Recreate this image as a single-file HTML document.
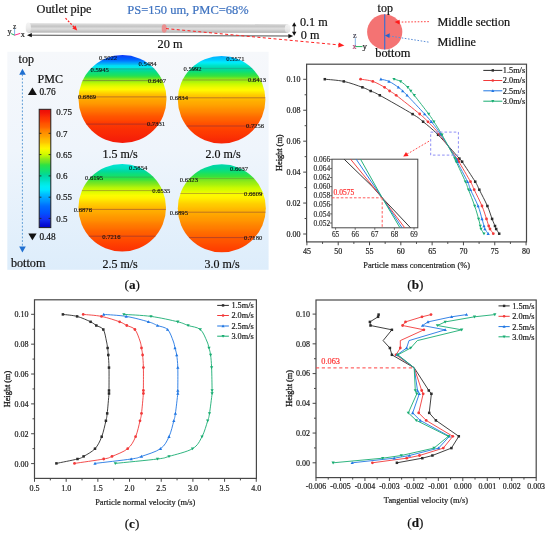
<!DOCTYPE html><html><head><meta charset="utf-8"><title>Figure</title>
<style>html,body{margin:0;padding:0;background:#fff;}svg{display:block;}text{font-family:'Liberation Serif', 'Times New Roman', serif;}</style>
</head><body>
<svg width="550" height="533" viewBox="0 0 550 533">
<defs>
<linearGradient id="panelbg" x1="0" y1="0" x2="0" y2="1"><stop offset="0" stop-color="#f6f8fb"/><stop offset="0.45" stop-color="#eff5fc"/><stop offset="1" stop-color="#ddedfb"/></linearGradient>
<linearGradient id="pipe" x1="0" y1="0" x2="0" y2="1"><stop offset="0" stop-color="#e8e8e8"/><stop offset="0.12" stop-color="#dadada"/><stop offset="0.34" stop-color="#c4c4c4"/><stop offset="0.58" stop-color="#dedede"/><stop offset="0.8" stop-color="#c8c8c8"/><stop offset="0.93" stop-color="#b6b6b6"/><stop offset="1" stop-color="#cecece"/></linearGradient>
<linearGradient id="pipecap" x1="0" y1="0" x2="0" y2="1"><stop offset="0" stop-color="#f4f4f4"/><stop offset="0.5" stop-color="#ececec"/><stop offset="1" stop-color="#dadada"/></linearGradient>
<linearGradient id="cbar" x1="0" y1="0" x2="0" y2="1"><stop offset="0" stop-color="#eb0b06"/><stop offset="0.03" stop-color="#f11707"/><stop offset="0.05" stop-color="#f72307"/><stop offset="0.07" stop-color="#fb3203"/><stop offset="0.1" stop-color="#ff4100"/><stop offset="0.12" stop-color="#ff5300"/><stop offset="0.15" stop-color="#ff6400"/><stop offset="0.17" stop-color="#ff7a00"/><stop offset="0.2" stop-color="#ff8f00"/><stop offset="0.23" stop-color="#ffa200"/><stop offset="0.25" stop-color="#ffb400"/><stop offset="0.28" stop-color="#ffc600"/><stop offset="0.3" stop-color="#ffdd00"/><stop offset="0.33" stop-color="#fff500"/><stop offset="0.35" stop-color="#ecfb00"/><stop offset="0.38" stop-color="#d1fa00"/><stop offset="0.4" stop-color="#b0f30a"/><stop offset="0.42" stop-color="#8ce919"/><stop offset="0.45" stop-color="#5fe42c"/><stop offset="0.47" stop-color="#2ee242"/><stop offset="0.5" stop-color="#1ae161"/><stop offset="0.53" stop-color="#0cde7c"/><stop offset="0.55" stop-color="#04d994"/><stop offset="0.57" stop-color="#00daab"/><stop offset="0.6" stop-color="#00e0c2"/><stop offset="0.62" stop-color="#00e6da"/><stop offset="0.65" stop-color="#00edf2"/><stop offset="0.68" stop-color="#00e7ff"/><stop offset="0.7" stop-color="#00d2ff"/><stop offset="0.72" stop-color="#00bcff"/><stop offset="0.75" stop-color="#00a5ff"/><stop offset="0.78" stop-color="#0090ff"/><stop offset="0.8" stop-color="#007cff"/><stop offset="0.82" stop-color="#006bff"/><stop offset="0.85" stop-color="#005eff"/><stop offset="0.88" stop-color="#0250fe"/><stop offset="0.9" stop-color="#0c40f9"/><stop offset="0.93" stop-color="#1330f3"/><stop offset="0.95" stop-color="#0d21e5"/><stop offset="0.97" stop-color="#0711d7"/><stop offset="1" stop-color="#0001c9"/></linearGradient>
<linearGradient id="cg0" x1="0" y1="0" x2="0" y2="1"><stop offset="0" stop-color="#1138f7"/><stop offset="0.02" stop-color="#054bfc"/><stop offset="0.05" stop-color="#0062ff"/><stop offset="0.07" stop-color="#0081ff"/><stop offset="0.09" stop-color="#00a5ff"/><stop offset="0.11" stop-color="#00d4ff"/><stop offset="0.14" stop-color="#00eae7"/><stop offset="0.16" stop-color="#00dbb1"/><stop offset="0.18" stop-color="#03d996"/><stop offset="0.2" stop-color="#0cde7b"/><stop offset="0.23" stop-color="#1ee15b"/><stop offset="0.25" stop-color="#3de33b"/><stop offset="0.27" stop-color="#77e622"/><stop offset="0.3" stop-color="#9fef11"/><stop offset="0.32" stop-color="#bdf705"/><stop offset="0.34" stop-color="#d6fa00"/><stop offset="0.36" stop-color="#ecfb00"/><stop offset="0.39" stop-color="#fff900"/><stop offset="0.41" stop-color="#ffe600"/><stop offset="0.43" stop-color="#ffd300"/><stop offset="0.45" stop-color="#ffc100"/><stop offset="0.48" stop-color="#ffb300"/><stop offset="0.5" stop-color="#ffaa00"/><stop offset="0.52" stop-color="#ffa200"/><stop offset="0.55" stop-color="#ff9900"/><stop offset="0.57" stop-color="#ff8f00"/><stop offset="0.59" stop-color="#ff8500"/><stop offset="0.61" stop-color="#ff7b00"/><stop offset="0.64" stop-color="#ff7000"/><stop offset="0.66" stop-color="#ff6600"/><stop offset="0.68" stop-color="#ff5d00"/><stop offset="0.7" stop-color="#ff5400"/><stop offset="0.73" stop-color="#ff4c00"/><stop offset="0.75" stop-color="#ff4300"/><stop offset="0.77" stop-color="#fe3b01"/><stop offset="0.8" stop-color="#fc3602"/><stop offset="0.82" stop-color="#fb3303"/><stop offset="0.84" stop-color="#fa3004"/><stop offset="0.86" stop-color="#fa2c04"/><stop offset="0.89" stop-color="#f92905"/><stop offset="0.91" stop-color="#f82606"/><stop offset="0.93" stop-color="#f72307"/><stop offset="0.95" stop-color="#f62008"/><stop offset="0.98" stop-color="#f51d08"/><stop offset="1" stop-color="#f31b08"/></linearGradient>
<linearGradient id="cg1" x1="0" y1="0" x2="0" y2="1"><stop offset="0" stop-color="#00afff"/><stop offset="0.02" stop-color="#00bcff"/><stop offset="0.05" stop-color="#00d0ff"/><stop offset="0.07" stop-color="#00eaff"/><stop offset="0.09" stop-color="#00eae7"/><stop offset="0.11" stop-color="#00e2c9"/><stop offset="0.14" stop-color="#00daab"/><stop offset="0.16" stop-color="#05da91"/><stop offset="0.18" stop-color="#0dde78"/><stop offset="0.2" stop-color="#1ee15b"/><stop offset="0.23" stop-color="#38e23d"/><stop offset="0.25" stop-color="#6ce526"/><stop offset="0.27" stop-color="#97ec14"/><stop offset="0.3" stop-color="#b1f40a"/><stop offset="0.32" stop-color="#c9fa00"/><stop offset="0.34" stop-color="#dbfb00"/><stop offset="0.36" stop-color="#eefb00"/><stop offset="0.39" stop-color="#fffb00"/><stop offset="0.41" stop-color="#ffeb00"/><stop offset="0.43" stop-color="#ffdb00"/><stop offset="0.45" stop-color="#ffcb00"/><stop offset="0.48" stop-color="#ffbe00"/><stop offset="0.5" stop-color="#ffb600"/><stop offset="0.52" stop-color="#ffae00"/><stop offset="0.55" stop-color="#ffa600"/><stop offset="0.57" stop-color="#ff9f00"/><stop offset="0.59" stop-color="#ff9700"/><stop offset="0.61" stop-color="#ff8f00"/><stop offset="0.64" stop-color="#ff8500"/><stop offset="0.66" stop-color="#ff7c00"/><stop offset="0.68" stop-color="#ff7300"/><stop offset="0.7" stop-color="#ff6a00"/><stop offset="0.73" stop-color="#ff6100"/><stop offset="0.75" stop-color="#ff5a00"/><stop offset="0.77" stop-color="#ff5200"/><stop offset="0.8" stop-color="#ff4b00"/><stop offset="0.82" stop-color="#ff4500"/><stop offset="0.84" stop-color="#ff4100"/><stop offset="0.86" stop-color="#fe3c00"/><stop offset="0.89" stop-color="#fd3801"/><stop offset="0.91" stop-color="#fc3402"/><stop offset="0.93" stop-color="#fb3003"/><stop offset="0.95" stop-color="#f92c04"/><stop offset="0.98" stop-color="#f82805"/><stop offset="1" stop-color="#f72406"/></linearGradient>
<linearGradient id="cg2" x1="0" y1="0" x2="0" y2="1"><stop offset="0" stop-color="#00e6d9"/><stop offset="0.02" stop-color="#00e3cd"/><stop offset="0.05" stop-color="#00e0c1"/><stop offset="0.07" stop-color="#00daac"/><stop offset="0.09" stop-color="#03d996"/><stop offset="0.11" stop-color="#0bdd80"/><stop offset="0.14" stop-color="#15e068"/><stop offset="0.16" stop-color="#26e14f"/><stop offset="0.18" stop-color="#3ce33b"/><stop offset="0.2" stop-color="#60e42b"/><stop offset="0.23" stop-color="#83e71d"/><stop offset="0.25" stop-color="#9dee12"/><stop offset="0.27" stop-color="#b7f507"/><stop offset="0.3" stop-color="#cffa00"/><stop offset="0.32" stop-color="#dffb00"/><stop offset="0.34" stop-color="#edfb00"/><stop offset="0.36" stop-color="#fbfc00"/><stop offset="0.39" stop-color="#fff300"/><stop offset="0.41" stop-color="#ffe700"/><stop offset="0.43" stop-color="#ffdb00"/><stop offset="0.45" stop-color="#ffcf00"/><stop offset="0.48" stop-color="#ffc300"/><stop offset="0.5" stop-color="#ffba00"/><stop offset="0.52" stop-color="#ffb100"/><stop offset="0.55" stop-color="#ffaa00"/><stop offset="0.57" stop-color="#ffa400"/><stop offset="0.59" stop-color="#ff9d00"/><stop offset="0.61" stop-color="#ff9700"/><stop offset="0.64" stop-color="#ff9000"/><stop offset="0.66" stop-color="#ff8800"/><stop offset="0.68" stop-color="#ff8000"/><stop offset="0.7" stop-color="#ff7900"/><stop offset="0.73" stop-color="#ff7100"/><stop offset="0.75" stop-color="#ff6900"/><stop offset="0.77" stop-color="#ff6200"/><stop offset="0.8" stop-color="#ff5b00"/><stop offset="0.82" stop-color="#ff5500"/><stop offset="0.84" stop-color="#ff5000"/><stop offset="0.86" stop-color="#ff4b00"/><stop offset="0.89" stop-color="#ff4500"/><stop offset="0.91" stop-color="#ff4000"/><stop offset="0.93" stop-color="#fe3c01"/><stop offset="0.95" stop-color="#fd3802"/><stop offset="0.98" stop-color="#fc3303"/><stop offset="1" stop-color="#fa2f04"/></linearGradient>
<linearGradient id="cg3" x1="0" y1="0" x2="0" y2="1"><stop offset="0" stop-color="#00daad"/><stop offset="0.02" stop-color="#00d7a1"/><stop offset="0.05" stop-color="#04d995"/><stop offset="0.07" stop-color="#0add82"/><stop offset="0.09" stop-color="#12e06e"/><stop offset="0.11" stop-color="#22e155"/><stop offset="0.14" stop-color="#37e23d"/><stop offset="0.16" stop-color="#61e42b"/><stop offset="0.18" stop-color="#7ee61f"/><stop offset="0.2" stop-color="#92eb16"/><stop offset="0.23" stop-color="#a6f10e"/><stop offset="0.25" stop-color="#b9f606"/><stop offset="0.27" stop-color="#ccfa00"/><stop offset="0.3" stop-color="#dbfb00"/><stop offset="0.32" stop-color="#eafb00"/><stop offset="0.34" stop-color="#f8fc00"/><stop offset="0.36" stop-color="#fff800"/><stop offset="0.39" stop-color="#ffee00"/><stop offset="0.41" stop-color="#ffe300"/><stop offset="0.43" stop-color="#ffd900"/><stop offset="0.45" stop-color="#ffcf00"/><stop offset="0.48" stop-color="#ffc500"/><stop offset="0.5" stop-color="#ffbd00"/><stop offset="0.52" stop-color="#ffb500"/><stop offset="0.55" stop-color="#ffad00"/><stop offset="0.57" stop-color="#ffa700"/><stop offset="0.59" stop-color="#ffa100"/><stop offset="0.61" stop-color="#ff9c00"/><stop offset="0.64" stop-color="#ff9600"/><stop offset="0.66" stop-color="#ff8f00"/><stop offset="0.68" stop-color="#ff8900"/><stop offset="0.7" stop-color="#ff8200"/><stop offset="0.73" stop-color="#ff7b00"/><stop offset="0.75" stop-color="#ff7400"/><stop offset="0.77" stop-color="#ff6d00"/><stop offset="0.8" stop-color="#ff6600"/><stop offset="0.82" stop-color="#ff6000"/><stop offset="0.84" stop-color="#ff5b00"/><stop offset="0.86" stop-color="#ff5600"/><stop offset="0.89" stop-color="#ff5100"/><stop offset="0.91" stop-color="#ff4c00"/><stop offset="0.93" stop-color="#ff4700"/><stop offset="0.95" stop-color="#ff4300"/><stop offset="0.98" stop-color="#ff3e00"/><stop offset="1" stop-color="#fe3a01"/></linearGradient>
<marker id="ahr" viewBox="0 0 10 10" refX="9" refY="5" markerWidth="5" markerHeight="5" orient="auto"><path d="M0,0 L10,5 L0,10 z" fill="#ff1a1a"/></marker>
</defs>
<path d="M28,22.9 L288,24.3 L288,32.9 L28,32.8 Z" fill="url(#pipe)"/>
<ellipse cx="28.3" cy="27.7" rx="2.6" ry="5.1" fill="url(#pipecap)"/>
<ellipse cx="287.6" cy="28.6" rx="2.8" ry="4.3" fill="url(#pipecap)" opacity="0.95"/>
<ellipse cx="164.2" cy="28.5" rx="2.5" ry="4.3" fill="#f08080" opacity="0.8"/>
<line x1="30.5" y1="35.2" x2="289" y2="36" stroke="#222" stroke-width="0.8"/>
<path d="M27.0,35.2 L31.8,33.1 L31.8,37.3 Z" fill="#111"/>
<path d="M293.2,36.1 L288.4,33.9 L288.4,38.2 Z" fill="#111"/>
<line x1="294.2" y1="25" x2="294.2" y2="33" stroke="#111" stroke-width="0.9"/>
<path d="M294.2,22.2 L292.0,26.2 L296.4,26.2 Z" fill="#111"/>
<path d="M294.2,35.8 L292.0,31.8 L296.4,31.8 Z" fill="#111"/>
<line x1="166" y1="28.6" x2="340" y2="45" stroke="#ff2020" stroke-width="1" stroke-dasharray="3,2.4"/>
<path d="M344.4,45.4 L338.8,42.6 L338.2,47.6 Z" fill="#ff2020"/>
<line x1="65.5" y1="18.2" x2="74.3" y2="27.4" stroke="#ff2020" stroke-width="1.2" stroke-dasharray="2,1.5"/>
<path d="M77.2,30.4 L72.3,28.6 L75.6,25.5 Z" fill="#ff2020"/>
<line x1="14.6" y1="35.2" x2="14.6" y2="28.2" stroke="#7fb2e6" stroke-width="1"/>
<line x1="14.6" y1="35.2" x2="11.2" y2="33.6" stroke="#1fae5a" stroke-width="1"/>
<line x1="14.6" y1="35.2" x2="20.2" y2="33.4" stroke="#ff2f8a" stroke-width="1"/>
<text x="7.4" y="34.4" font-size="8.2" text-anchor="start" fill="#222" stroke="#222" stroke-width="0.2">y</text>
<text x="12.9" y="29" font-size="7.4" text-anchor="start" fill="#222" stroke="#222" stroke-width="0.12">z</text>
<text x="20.8" y="36.6" font-size="8.2" text-anchor="start" fill="#222" stroke="#222" stroke-width="0.2">x</text>
<text x="36.6" y="13.4" font-size="12.3" text-anchor="start" fill="#111" stroke="#111" stroke-width="0.2">Outlet pipe</text>
<text x="127.3" y="13.8" font-size="12.5" text-anchor="start" fill="#3d72c0" stroke="#3d72c0" stroke-width="0.2">PS=150 um, PMC=68%</text>
<text x="157.6" y="47.9" font-size="12.3" text-anchor="start" fill="#111" stroke="#111" stroke-width="0.2">20 m</text>
<text x="299.9" y="25.5" font-size="12.2" text-anchor="start" fill="#111" stroke="#111" stroke-width="0.2">0.1 m</text>
<text x="300.8" y="39.1" font-size="12.2" text-anchor="start" fill="#111" stroke="#111" stroke-width="0.2">0 m</text>
<line x1="355.3" y1="46.6" x2="355.3" y2="38.2" stroke="#7fb2e6" stroke-width="1"/>
<line x1="355.3" y1="46.6" x2="362.5" y2="46.6" stroke="#1fae5a" stroke-width="1"/>
<text x="352.9" y="38" font-size="8" text-anchor="start" fill="#445" stroke="#445" stroke-width="0.2">z</text>
<text x="352.6" y="49.3" font-size="7.6" text-anchor="start" fill="#b04070" stroke="#b04070" stroke-width="0.2">x</text>
<text x="362.4" y="49" font-size="9" text-anchor="start" fill="#222" stroke="#222" stroke-width="0.2">y</text>
<circle cx="384.7" cy="31.9" r="17.6" fill="#f47373"/>
<line x1="384.7" y1="14.2" x2="384.7" y2="49.6" stroke="#3f6fd0" stroke-width="1.2"/>
<text x="377.6" y="11.6" font-size="12" text-anchor="start" fill="#111" stroke="#111" stroke-width="0.2">top</text>
<text x="375.2" y="56.7" font-size="12.4" text-anchor="start" fill="#111" stroke="#111" stroke-width="0.2">bottom</text>
<line x1="398.5" y1="22.1" x2="430.5" y2="21.6" stroke="#ff4040" stroke-width="1" stroke-dasharray="1.6,1.6"/>
<path d="M394.6,22.1 L399.6,19.7 L399.6,24.6 Z" fill="#ff1a1a"/>
<line x1="389" y1="35.9" x2="429.8" y2="42.3" stroke="#5b8fd8" stroke-width="1" stroke-dasharray="1.6,1.6"/>
<path d="M384.9,35.4 L389.8,33.2 L389.4,38.1 Z" fill="#2a62c8"/>
<text x="437.4" y="25.6" font-size="12.2" text-anchor="start" fill="#111" stroke="#111" stroke-width="0.2">Middle section</text>
<text x="437.4" y="46.2" font-size="12.2" text-anchor="start" fill="#111" stroke="#111" stroke-width="0.2">Midline</text>
<rect x="7.3" y="51.8" width="261.3" height="218" fill="url(#panelbg)"/>
<line x1="22.4" y1="74.5" x2="22.4" y2="246.8" stroke="#5b9bd5" stroke-width="1" stroke-dasharray="1.8,1.8"/>
<path d="M22.4,68.7 L19.2,74.8 L25.8,74.8 Z" fill="#1f6fd0"/>
<path d="M22.4,252.6 L19.2,246.5 L25.8,246.5 Z" fill="#1f6fd0"/>
<text x="18.6" y="63" font-size="12" text-anchor="start" fill="#111" stroke="#111" stroke-width="0.2">top</text>
<text x="10.9" y="266.5" font-size="12.2" text-anchor="start" fill="#111" stroke="#111" stroke-width="0.2">bottom</text>
<text x="37.6" y="83.3" font-size="12" text-anchor="start" fill="#111" stroke="#111" stroke-width="0.2">PMC</text>
<path d="M32.4,87.4 L27.9,95.0 L36.9,95.0 Z" fill="#111"/>
<text x="39.4" y="95" font-size="9.3" text-anchor="start" fill="#111" stroke="#111" stroke-width="0.2">0.76</text>
<path d="M32.4,240.2 L28.3,233.4 L36.6,233.4 Z" fill="#111"/>
<text x="39.4" y="240.2" font-size="9.3" text-anchor="start" fill="#111" stroke="#111" stroke-width="0.2">0.48</text>
<rect x="39.2" y="109.3" width="11.6" height="118.3" fill="url(#cbar)" stroke="#222" stroke-width="1"/>
<text x="56.3" y="115.3" font-size="9" text-anchor="start" fill="#111" stroke="#111" stroke-width="0.2">0.75</text>
<line x1="39.2" y1="133.3" x2="41.4" y2="133.3" stroke="#222" stroke-width="0.9"/>
<line x1="48.6" y1="133.3" x2="50.8" y2="133.3" stroke="#222" stroke-width="0.9"/>
<text x="56.3" y="136.5" font-size="9" text-anchor="start" fill="#111" stroke="#111" stroke-width="0.2">0.7</text>
<line x1="39.2" y1="154.6" x2="41.4" y2="154.6" stroke="#222" stroke-width="0.9"/>
<line x1="48.6" y1="154.6" x2="50.8" y2="154.6" stroke="#222" stroke-width="0.9"/>
<text x="56.3" y="157.8" font-size="9" text-anchor="start" fill="#111" stroke="#111" stroke-width="0.2">0.65</text>
<line x1="39.2" y1="175.9" x2="41.4" y2="175.9" stroke="#222" stroke-width="0.9"/>
<line x1="48.6" y1="175.9" x2="50.8" y2="175.9" stroke="#222" stroke-width="0.9"/>
<text x="56.3" y="179.1" font-size="9" text-anchor="start" fill="#111" stroke="#111" stroke-width="0.2">0.6</text>
<line x1="39.2" y1="197.2" x2="41.4" y2="197.2" stroke="#222" stroke-width="0.9"/>
<line x1="48.6" y1="197.2" x2="50.8" y2="197.2" stroke="#222" stroke-width="0.9"/>
<text x="56.3" y="200.4" font-size="9" text-anchor="start" fill="#111" stroke="#111" stroke-width="0.2">0.55</text>
<line x1="39.2" y1="218.4" x2="41.4" y2="218.4" stroke="#222" stroke-width="0.9"/>
<line x1="48.6" y1="218.4" x2="50.8" y2="218.4" stroke="#222" stroke-width="0.9"/>
<text x="56.3" y="221.6" font-size="9" text-anchor="start" fill="#111" stroke="#111" stroke-width="0.2">0.5</text>
<circle cx="122.5" cy="99.1" r="44" fill="url(#cg0)"/>
<circle cx="221.6" cy="99.7" r="43.8" fill="url(#cg1)"/>
<circle cx="122.2" cy="207.8" r="43.8" fill="url(#cg2)"/>
<circle cx="221.8" cy="208.3" r="44" fill="url(#cg3)"/>
<path d="M95.7,64.2 Q122.5,64.2 149.3,64.2" fill="none" stroke="#6a2848" stroke-width="0.8" opacity="0.15"/>
<path d="M90.5,68.9 Q122.5,68.9 154.5,68.9" fill="none" stroke="#6a2848" stroke-width="0.8" opacity="0.35"/>
<path d="M82.58,80.6 Q122.5,80.6 162.42,80.6" fill="none" stroke="#6a2848" stroke-width="0.8" opacity="0.5"/>
<path d="M78.56,96.9 Q122.5,96.9 166.44,96.9" fill="none" stroke="#6a2848" stroke-width="0.8" opacity="0.55"/>
<path d="M86.29,124.1 Q122.5,124.1 158.71,124.1" fill="none" stroke="#6a2848" stroke-width="0.8" opacity="0.6"/>
<path d="M190.96,68.4 Q221.6,68.4 252.24,68.4" fill="none" stroke="#6a2848" stroke-width="0.8" opacity="0.25"/>
<path d="M182.48,80 Q221.6,80 260.72,80" fill="none" stroke="#6a2848" stroke-width="0.8" opacity="0.45"/>
<path d="M177.84,97.8 Q221.6,97.8 265.36,97.8" fill="none" stroke="#6a2848" stroke-width="0.8" opacity="0.55"/>
<path d="M186.58,126 Q221.6,126 256.62,126" fill="none" stroke="#6a2848" stroke-width="0.8" opacity="0.6"/>
<path d="M90.96,177.1 Q122.2,177.1 153.44,177.1" fill="none" stroke="#6a2848" stroke-width="0.8" opacity="0.25"/>
<path d="M81.92,190.6 Q122.2,190.6 162.48,190.6" fill="none" stroke="#6a2848" stroke-width="0.8" opacity="0.45"/>
<path d="M78.43,209.4 Q122.2,209.4 165.97,209.4" fill="none" stroke="#6a2848" stroke-width="0.8" opacity="0.55"/>
<path d="M88.86,236.2 Q122.2,236.2 155.54,236.2" fill="none" stroke="#6a2848" stroke-width="0.8" opacity="0.6"/>
<path d="M189.43,178.5 Q221.8,178.5 254.17,178.5" fill="none" stroke="#6a2848" stroke-width="0.8" opacity="0.25"/>
<path d="M180.36,193.5 Q221.8,193.5 263.24,193.5" fill="none" stroke="#6a2848" stroke-width="0.8" opacity="0.45"/>
<path d="M177.97,212.2 Q221.8,212.2 265.63,212.2" fill="none" stroke="#6a2848" stroke-width="0.8" opacity="0.55"/>
<path d="M188.97,237.6 Q221.8,237.6 254.63,237.6" fill="none" stroke="#6a2848" stroke-width="0.8" opacity="0.6"/>
<text x="99" y="60.2" font-size="6.6" text-anchor="start" fill="#111" stroke="#111" stroke-width="0.12">0.5022</text>
<text x="138.5" y="66.3" font-size="6.6" text-anchor="start" fill="#111" stroke="#111" stroke-width="0.12">0.5484</text>
<text x="90.6" y="71.6" font-size="6.6" text-anchor="start" fill="#111" stroke="#111" stroke-width="0.12">0.5945</text>
<text x="147.9" y="82.9" font-size="6.6" text-anchor="start" fill="#111" stroke="#111" stroke-width="0.12">0.6407</text>
<text x="77.9" y="99.2" font-size="6.6" text-anchor="start" fill="#111" stroke="#111" stroke-width="0.12">0.6869</text>
<text x="146.9" y="126.4" font-size="6.6" text-anchor="start" fill="#111" stroke="#111" stroke-width="0.12">0.7331</text>
<text x="226.3" y="61.3" font-size="6.6" text-anchor="start" fill="#111" stroke="#111" stroke-width="0.12">0.5571</text>
<text x="183.5" y="70.7" font-size="6.6" text-anchor="start" fill="#111" stroke="#111" stroke-width="0.12">0.5992</text>
<text x="247.9" y="82.3" font-size="6.6" text-anchor="start" fill="#111" stroke="#111" stroke-width="0.12">0.6413</text>
<text x="169.8" y="100.1" font-size="6.6" text-anchor="start" fill="#111" stroke="#111" stroke-width="0.12">0.6834</text>
<text x="246" y="128.3" font-size="6.6" text-anchor="start" fill="#111" stroke="#111" stroke-width="0.12">0.7256</text>
<text x="129.1" y="170.4" font-size="6.6" text-anchor="start" fill="#111" stroke="#111" stroke-width="0.12">0.5854</text>
<text x="85" y="179.8" font-size="6.6" text-anchor="start" fill="#111" stroke="#111" stroke-width="0.12">0.6195</text>
<text x="152.2" y="192.9" font-size="6.6" text-anchor="start" fill="#111" stroke="#111" stroke-width="0.12">0.6535</text>
<text x="73.8" y="211.7" font-size="6.6" text-anchor="start" fill="#111" stroke="#111" stroke-width="0.12">0.6876</text>
<text x="102.3" y="238.5" font-size="6.6" text-anchor="start" fill="#111" stroke="#111" stroke-width="0.12">0.7216</text>
<text x="230" y="170.8" font-size="6.6" text-anchor="start" fill="#111" stroke="#111" stroke-width="0.12">0.6037</text>
<text x="179.8" y="182.1" font-size="6.6" text-anchor="start" fill="#111" stroke="#111" stroke-width="0.12">0.6323</text>
<text x="244.1" y="195.8" font-size="6.6" text-anchor="start" fill="#111" stroke="#111" stroke-width="0.12">0.6609</text>
<text x="169.8" y="214.5" font-size="6.6" text-anchor="start" fill="#111" stroke="#111" stroke-width="0.12">0.6895</text>
<text x="244.1" y="239.9" font-size="6.6" text-anchor="start" fill="#111" stroke="#111" stroke-width="0.12">0.7180</text>
<text x="120.1" y="158" font-size="12" text-anchor="middle" fill="#111" stroke="#111" stroke-width="0.2">1.5 m/s</text>
<text x="223.1" y="158" font-size="12" text-anchor="middle" fill="#111" stroke="#111" stroke-width="0.2">2.0 m/s</text>
<text x="120.1" y="267.5" font-size="12" text-anchor="middle" fill="#111" stroke="#111" stroke-width="0.2">2.5 m/s</text>
<text x="222.1" y="267.5" font-size="12" text-anchor="middle" fill="#111" stroke="#111" stroke-width="0.2">3.0 m/s</text>
<text x="132.2" y="288.9" font-size="13.2" text-anchor="middle" fill="#111" stroke="#111" stroke-width="0.15">(<tspan font-weight="bold">a</tspan>)</text>
<text x="415.3" y="289" font-size="13.2" text-anchor="middle" fill="#111" stroke="#111" stroke-width="0.15">(<tspan font-weight="bold">b</tspan>)</text>
<text x="132" y="527.6" font-size="13.2" text-anchor="middle" fill="#111" stroke="#111" stroke-width="0.15">(<tspan font-weight="bold">c</tspan>)</text>
<text x="415.3" y="527.2" font-size="13.2" text-anchor="middle" fill="#111" stroke="#111" stroke-width="0.15">(<tspan font-weight="bold">d</tspan>)</text>
<rect x="306.6" y="64.2" width="219.9" height="177.7" fill="none" stroke="#484848" stroke-width="1.2"/>
<line x1="306.9" y1="241.9" x2="306.9" y2="245.3" stroke="#484848" stroke-width="1"/>
<line x1="338.21" y1="241.9" x2="338.21" y2="245.3" stroke="#484848" stroke-width="1"/>
<line x1="369.52" y1="241.9" x2="369.52" y2="245.3" stroke="#484848" stroke-width="1"/>
<line x1="400.83" y1="241.9" x2="400.83" y2="245.3" stroke="#484848" stroke-width="1"/>
<line x1="432.14" y1="241.9" x2="432.14" y2="245.3" stroke="#484848" stroke-width="1"/>
<line x1="463.45" y1="241.9" x2="463.45" y2="245.3" stroke="#484848" stroke-width="1"/>
<line x1="494.76" y1="241.9" x2="494.76" y2="245.3" stroke="#484848" stroke-width="1"/>
<line x1="526.07" y1="241.9" x2="526.07" y2="245.3" stroke="#484848" stroke-width="1"/>
<line x1="322.55" y1="241.9" x2="322.55" y2="243.9" stroke="#484848" stroke-width="1"/>
<line x1="353.86" y1="241.9" x2="353.86" y2="243.9" stroke="#484848" stroke-width="1"/>
<line x1="385.17" y1="241.9" x2="385.17" y2="243.9" stroke="#484848" stroke-width="1"/>
<line x1="416.48" y1="241.9" x2="416.48" y2="243.9" stroke="#484848" stroke-width="1"/>
<line x1="447.79" y1="241.9" x2="447.79" y2="243.9" stroke="#484848" stroke-width="1"/>
<line x1="479.1" y1="241.9" x2="479.1" y2="243.9" stroke="#484848" stroke-width="1"/>
<line x1="510.41" y1="241.9" x2="510.41" y2="243.9" stroke="#484848" stroke-width="1"/>
<text x="306.9" y="254.4" font-size="8" text-anchor="middle" fill="#222" stroke="#222" stroke-width="0.2">45</text>
<text x="338.21" y="254.4" font-size="8" text-anchor="middle" fill="#222" stroke="#222" stroke-width="0.2">50</text>
<text x="369.52" y="254.4" font-size="8" text-anchor="middle" fill="#222" stroke="#222" stroke-width="0.2">55</text>
<text x="400.83" y="254.4" font-size="8" text-anchor="middle" fill="#222" stroke="#222" stroke-width="0.2">60</text>
<text x="432.14" y="254.4" font-size="8" text-anchor="middle" fill="#222" stroke="#222" stroke-width="0.2">65</text>
<text x="463.45" y="254.4" font-size="8" text-anchor="middle" fill="#222" stroke="#222" stroke-width="0.2">70</text>
<text x="494.76" y="254.4" font-size="8" text-anchor="middle" fill="#222" stroke="#222" stroke-width="0.2">75</text>
<text x="526.07" y="254.4" font-size="8" text-anchor="middle" fill="#222" stroke="#222" stroke-width="0.2">80</text>
<line x1="303.2" y1="234" x2="306.6" y2="234" stroke="#484848" stroke-width="1"/>
<line x1="303.2" y1="203.06" x2="306.6" y2="203.06" stroke="#484848" stroke-width="1"/>
<line x1="303.2" y1="172.12" x2="306.6" y2="172.12" stroke="#484848" stroke-width="1"/>
<line x1="303.2" y1="141.18" x2="306.6" y2="141.18" stroke="#484848" stroke-width="1"/>
<line x1="303.2" y1="110.24" x2="306.6" y2="110.24" stroke="#484848" stroke-width="1"/>
<line x1="303.2" y1="79.3" x2="306.6" y2="79.3" stroke="#484848" stroke-width="1"/>
<line x1="304.6" y1="218.53" x2="306.6" y2="218.53" stroke="#484848" stroke-width="1"/>
<line x1="304.6" y1="187.59" x2="306.6" y2="187.59" stroke="#484848" stroke-width="1"/>
<line x1="304.6" y1="156.65" x2="306.6" y2="156.65" stroke="#484848" stroke-width="1"/>
<line x1="304.6" y1="125.71" x2="306.6" y2="125.71" stroke="#484848" stroke-width="1"/>
<line x1="304.6" y1="94.77" x2="306.6" y2="94.77" stroke="#484848" stroke-width="1"/>
<text x="300.4" y="236.9" font-size="8" text-anchor="end" fill="#222" stroke="#222" stroke-width="0.2">0.00</text>
<text x="300.4" y="205.96" font-size="8" text-anchor="end" fill="#222" stroke="#222" stroke-width="0.2">0.02</text>
<text x="300.4" y="175.02" font-size="8" text-anchor="end" fill="#222" stroke="#222" stroke-width="0.2">0.04</text>
<text x="300.4" y="144.08" font-size="8" text-anchor="end" fill="#222" stroke="#222" stroke-width="0.2">0.06</text>
<text x="300.4" y="113.14" font-size="8" text-anchor="end" fill="#222" stroke="#222" stroke-width="0.2">0.08</text>
<text x="300.4" y="82.2" font-size="8" text-anchor="end" fill="#222" stroke="#222" stroke-width="0.2">0.10</text>
<text x="281.8" y="152.7" font-size="8.3" text-anchor="middle" fill="#222" stroke="#222" stroke-width="0.35" transform="rotate(-90 281.8 152.7)">Height (m)</text>
<text x="416.6" y="268.2" font-size="8.4" text-anchor="middle" fill="#222" stroke="#222" stroke-width="0.2">Particle mass concentration (%)</text>
<path d="M324.8,79.2 C327.97,79.57 337.53,80.05 343.8,81.4 C350.07,82.75 357.92,85.7 362.4,87.3 C366.88,88.9 367.8,89.67 370.7,91 C373.6,92.33 372.82,91.45 379.8,95.3 C386.78,99.15 405.38,109.7 412.6,114.1 C419.82,118.5 418.85,118.25 423.1,121.7 C427.35,125.15 432.05,128.65 438.1,134.8 C444.15,140.95 455.4,154.12 459.4,158.6 C463.4,163.08 459.47,157.85 462.1,161.7 C464.73,165.55 472.33,177.03 475.2,181.7 C478.07,186.37 477.27,185.65 479.3,189.7 C481.33,193.75 485.27,201.13 487.4,206 C489.53,210.87 490.83,215.57 492.1,218.9 C493.37,222.23 494.32,224.32 495,226 C495.68,227.68 495.5,227.72 496.2,229 C496.9,230.28 498.7,232.92 499.2,233.7" fill="none" stroke="#2b2b2b" stroke-width="0.9"/>
<rect x="323.55" y="77.95" width="2.5" height="2.5" fill="#2b2b2b"/>
<rect x="342.55" y="80.15" width="2.5" height="2.5" fill="#2b2b2b"/>
<rect x="361.15" y="86.05" width="2.5" height="2.5" fill="#2b2b2b"/>
<rect x="369.45" y="89.75" width="2.5" height="2.5" fill="#2b2b2b"/>
<rect x="378.55" y="94.05" width="2.5" height="2.5" fill="#2b2b2b"/>
<rect x="411.35" y="112.85" width="2.5" height="2.5" fill="#2b2b2b"/>
<rect x="421.85" y="120.45" width="2.5" height="2.5" fill="#2b2b2b"/>
<rect x="436.85" y="133.55" width="2.5" height="2.5" fill="#2b2b2b"/>
<rect x="458.15" y="157.35" width="2.5" height="2.5" fill="#2b2b2b"/>
<rect x="460.85" y="160.45" width="2.5" height="2.5" fill="#2b2b2b"/>
<rect x="473.95" y="180.45" width="2.5" height="2.5" fill="#2b2b2b"/>
<rect x="478.05" y="188.45" width="2.5" height="2.5" fill="#2b2b2b"/>
<rect x="486.15" y="204.75" width="2.5" height="2.5" fill="#2b2b2b"/>
<rect x="490.85" y="217.65" width="2.5" height="2.5" fill="#2b2b2b"/>
<rect x="493.75" y="224.75" width="2.5" height="2.5" fill="#2b2b2b"/>
<rect x="494.95" y="227.75" width="2.5" height="2.5" fill="#2b2b2b"/>
<rect x="497.95" y="232.45" width="2.5" height="2.5" fill="#2b2b2b"/>
<path d="M360.6,79.2 C362.63,79.57 368.8,80.05 372.8,81.4 C376.8,82.75 381.8,85.7 384.6,87.3 C387.4,88.9 387.67,89.67 389.6,91 C391.53,92.33 391.18,91.47 396.2,95.3 C401.22,99.13 414.4,109.58 419.7,114 C425,118.42 424.68,118.37 428,121.8 C431.32,125.23 434.67,128.33 439.6,134.6 C444.53,140.87 454.38,154.88 457.6,159.4 C460.82,163.92 456.75,157.98 458.9,161.7 C461.05,165.42 467.95,177.03 470.5,181.7 C473.05,186.37 472.28,185.65 474.2,189.7 C476.12,193.75 479.95,201.13 482,206 C484.05,210.87 485.38,215.57 486.5,218.9 C487.62,222.23 488.12,224.32 488.7,226 C489.28,227.68 489.23,227.72 490,229 C490.77,230.28 492.75,232.92 493.3,233.7" fill="none" stroke="#f23a3a" stroke-width="0.9"/>
<circle cx="360.6" cy="79.2" r="1.38" fill="#f23a3a"/>
<circle cx="372.8" cy="81.4" r="1.38" fill="#f23a3a"/>
<circle cx="384.6" cy="87.3" r="1.38" fill="#f23a3a"/>
<circle cx="389.6" cy="91" r="1.38" fill="#f23a3a"/>
<circle cx="396.2" cy="95.3" r="1.38" fill="#f23a3a"/>
<circle cx="419.7" cy="114" r="1.38" fill="#f23a3a"/>
<circle cx="428" cy="121.8" r="1.38" fill="#f23a3a"/>
<circle cx="439.6" cy="134.6" r="1.38" fill="#f23a3a"/>
<circle cx="457.6" cy="159.4" r="1.38" fill="#f23a3a"/>
<circle cx="458.9" cy="161.7" r="1.38" fill="#f23a3a"/>
<circle cx="470.5" cy="181.7" r="1.38" fill="#f23a3a"/>
<circle cx="474.2" cy="189.7" r="1.38" fill="#f23a3a"/>
<circle cx="482" cy="206" r="1.38" fill="#f23a3a"/>
<circle cx="486.5" cy="218.9" r="1.38" fill="#f23a3a"/>
<circle cx="488.7" cy="226" r="1.38" fill="#f23a3a"/>
<circle cx="490" cy="229" r="1.38" fill="#f23a3a"/>
<circle cx="493.3" cy="233.7" r="1.38" fill="#f23a3a"/>
<path d="M380.9,79.2 C382.25,79.57 386.08,80.05 389,81.4 C391.92,82.75 396.12,85.7 398.4,87.3 C400.68,88.9 401.25,89.67 402.7,91 C404.15,92.33 403.45,91.47 407.1,95.3 C410.75,99.13 420.57,109.6 424.6,114 C428.63,118.4 428.63,118.33 431.3,121.7 C433.97,125.07 436.42,127.95 440.6,134.2 C444.78,140.45 453.63,154.62 456.4,159.2 C459.17,163.78 455.35,157.95 457.2,161.7 C459.05,165.45 465.28,177.03 467.5,181.7 C469.72,186.37 468.73,185.65 470.5,189.7 C472.27,193.75 476.18,201.13 478.1,206 C480.02,210.87 481.02,215.57 482,218.9 C482.98,222.23 483.52,224.32 484,226 C484.48,227.68 484.2,227.72 484.9,229 C485.6,230.28 487.65,232.92 488.2,233.7" fill="none" stroke="#2177e3" stroke-width="0.9"/>
<path d="M380.9,77.58 L379.27,80.45 L382.52,80.45 Z" fill="#2177e3"/>
<path d="M389,79.78 L387.38,82.65 L390.62,82.65 Z" fill="#2177e3"/>
<path d="M398.4,85.67 L396.77,88.55 L400.02,88.55 Z" fill="#2177e3"/>
<path d="M402.7,89.38 L401.07,92.25 L404.32,92.25 Z" fill="#2177e3"/>
<path d="M407.1,93.67 L405.48,96.55 L408.73,96.55 Z" fill="#2177e3"/>
<path d="M424.6,112.38 L422.98,115.25 L426.23,115.25 Z" fill="#2177e3"/>
<path d="M431.3,120.08 L429.68,122.95 L432.93,122.95 Z" fill="#2177e3"/>
<path d="M440.6,132.57 L438.98,135.45 L442.23,135.45 Z" fill="#2177e3"/>
<path d="M456.4,157.57 L454.77,160.45 L458.02,160.45 Z" fill="#2177e3"/>
<path d="M457.2,160.07 L455.57,162.95 L458.82,162.95 Z" fill="#2177e3"/>
<path d="M467.5,180.07 L465.88,182.95 L469.12,182.95 Z" fill="#2177e3"/>
<path d="M470.5,188.07 L468.88,190.95 L472.12,190.95 Z" fill="#2177e3"/>
<path d="M478.1,204.38 L476.48,207.25 L479.73,207.25 Z" fill="#2177e3"/>
<path d="M482,217.28 L480.38,220.15 L483.62,220.15 Z" fill="#2177e3"/>
<path d="M484,224.38 L482.38,227.25 L485.62,227.25 Z" fill="#2177e3"/>
<path d="M484.9,227.38 L483.27,230.25 L486.52,230.25 Z" fill="#2177e3"/>
<path d="M488.2,232.07 L486.57,234.95 L489.82,234.95 Z" fill="#2177e3"/>
<path d="M394,79.2 C395.1,79.57 398.3,80.05 400.6,81.4 C402.9,82.75 406.1,85.7 407.8,87.3 C409.5,88.9 409.72,89.67 410.8,91 C411.88,92.33 411.32,91.47 414.3,95.3 C417.28,99.13 425.43,109.6 428.7,114 C431.97,118.4 431.68,118.23 433.9,121.7 C436.12,125.17 438.52,128.68 442,134.8 C445.48,140.92 452.43,153.92 454.8,158.4 C457.17,162.88 454.43,157.82 456.2,161.7 C457.97,165.58 463.35,177.03 465.4,181.7 C467.45,186.37 466.95,185.65 468.5,189.7 C470.05,193.75 473.02,201.13 474.7,206 C476.38,210.87 477.67,215.57 478.6,218.9 C479.53,222.23 479.9,224.32 480.3,226 C480.7,227.68 480.38,227.72 481,229 C481.62,230.28 483.5,232.92 484,233.7" fill="none" stroke="#19ad72" stroke-width="0.9"/>
<path d="M394,80.83 L392.38,77.95 L395.62,77.95 Z" fill="#19ad72"/>
<path d="M400.6,83.03 L398.98,80.15 L402.23,80.15 Z" fill="#19ad72"/>
<path d="M407.8,88.92 L406.18,86.05 L409.43,86.05 Z" fill="#19ad72"/>
<path d="M410.8,92.62 L409.18,89.75 L412.43,89.75 Z" fill="#19ad72"/>
<path d="M414.3,96.92 L412.68,94.05 L415.93,94.05 Z" fill="#19ad72"/>
<path d="M428.7,115.62 L427.07,112.75 L430.32,112.75 Z" fill="#19ad72"/>
<path d="M433.9,123.33 L432.27,120.45 L435.52,120.45 Z" fill="#19ad72"/>
<path d="M442,136.43 L440.38,133.55 L443.62,133.55 Z" fill="#19ad72"/>
<path d="M454.8,160.03 L453.18,157.15 L456.43,157.15 Z" fill="#19ad72"/>
<path d="M456.2,163.32 L454.57,160.45 L457.82,160.45 Z" fill="#19ad72"/>
<path d="M465.4,183.32 L463.77,180.45 L467.02,180.45 Z" fill="#19ad72"/>
<path d="M468.5,191.32 L466.88,188.45 L470.12,188.45 Z" fill="#19ad72"/>
<path d="M474.7,207.62 L473.07,204.75 L476.32,204.75 Z" fill="#19ad72"/>
<path d="M478.6,220.53 L476.98,217.65 L480.23,217.65 Z" fill="#19ad72"/>
<path d="M480.3,227.62 L478.68,224.75 L481.93,224.75 Z" fill="#19ad72"/>
<path d="M481,230.62 L479.38,227.75 L482.62,227.75 Z" fill="#19ad72"/>
<path d="M484,235.32 L482.38,232.45 L485.62,232.45 Z" fill="#19ad72"/>
<line x1="483.3" y1="70.4" x2="502.3" y2="70.4" stroke="#2b2b2b" stroke-width="1"/>
<rect x="491.6" y="69.2" width="2.4" height="2.4" fill="#2b2b2b"/>
<text x="502.8" y="73.3" font-size="8.3" text-anchor="start" fill="#222" stroke="#222" stroke-width="0.2">1.5m/s</text>
<line x1="483.3" y1="80.5" x2="502.3" y2="80.5" stroke="#f23a3a" stroke-width="1"/>
<circle cx="492.8" cy="80.5" r="1.32" fill="#f23a3a"/>
<text x="502.8" y="83.4" font-size="8.3" text-anchor="start" fill="#222" stroke="#222" stroke-width="0.2">2.0m/s</text>
<line x1="483.3" y1="90.8" x2="502.3" y2="90.8" stroke="#2177e3" stroke-width="1"/>
<path d="M492.8,89.24 L491.24,92 L494.36,92 Z" fill="#2177e3"/>
<text x="502.8" y="93.7" font-size="8.3" text-anchor="start" fill="#222" stroke="#222" stroke-width="0.2">2.5m/s</text>
<line x1="483.3" y1="101.2" x2="502.3" y2="101.2" stroke="#19ad72" stroke-width="1"/>
<path d="M492.8,102.76 L491.24,100 L494.36,100 Z" fill="#19ad72"/>
<text x="502.8" y="104.1" font-size="8.3" text-anchor="start" fill="#222" stroke="#222" stroke-width="0.2">3.0m/s</text>
<rect x="430.7" y="132.1" width="27.7" height="23" fill="none" stroke="#8f8ff5" stroke-width="1" stroke-dasharray="2.6,2"/>
<line x1="429" y1="141.2" x2="407" y2="154.2" stroke="#ff3838" stroke-width="0.9" stroke-dasharray="1.8,1.6"/>
<path d="M403.2,156.6 L406.0,151.9 L408.6,156.0 Z" fill="#ff2020"/>
<rect x="332" y="159.2" width="85.8" height="68.6" fill="#fff" stroke="#484848" stroke-width="1"/>
<line x1="330" y1="223" x2="332" y2="223" stroke="#484848" stroke-width="0.8"/>
<text x="330.2" y="225.6" font-size="7.4" text-anchor="end" fill="#222" stroke="#222" stroke-width="0.12">0.052</text>
<line x1="330" y1="213.91" x2="332" y2="213.91" stroke="#484848" stroke-width="0.8"/>
<text x="330.2" y="216.51" font-size="7.4" text-anchor="end" fill="#222" stroke="#222" stroke-width="0.12">0.054</text>
<line x1="330" y1="204.82" x2="332" y2="204.82" stroke="#484848" stroke-width="0.8"/>
<text x="330.2" y="207.42" font-size="7.4" text-anchor="end" fill="#222" stroke="#222" stroke-width="0.12">0.056</text>
<line x1="330" y1="195.73" x2="332" y2="195.73" stroke="#484848" stroke-width="0.8"/>
<text x="330.2" y="198.33" font-size="7.4" text-anchor="end" fill="#222" stroke="#222" stroke-width="0.12">0.058</text>
<line x1="330" y1="186.64" x2="332" y2="186.64" stroke="#484848" stroke-width="0.8"/>
<text x="330.2" y="189.24" font-size="7.4" text-anchor="end" fill="#222" stroke="#222" stroke-width="0.12">0.060</text>
<line x1="330" y1="177.55" x2="332" y2="177.55" stroke="#484848" stroke-width="0.8"/>
<text x="330.2" y="180.15" font-size="7.4" text-anchor="end" fill="#222" stroke="#222" stroke-width="0.12">0.062</text>
<line x1="330" y1="168.46" x2="332" y2="168.46" stroke="#484848" stroke-width="0.8"/>
<text x="330.2" y="171.06" font-size="7.4" text-anchor="end" fill="#222" stroke="#222" stroke-width="0.12">0.064</text>
<line x1="330" y1="159.37" x2="332" y2="159.37" stroke="#484848" stroke-width="0.8"/>
<text x="330.2" y="161.97" font-size="7.4" text-anchor="end" fill="#222" stroke="#222" stroke-width="0.12">0.066</text>
<line x1="335.6" y1="227.8" x2="335.6" y2="229.8" stroke="#484848" stroke-width="0.8"/>
<text x="335.6" y="236.8" font-size="7.4" text-anchor="middle" fill="#222" stroke="#222" stroke-width="0.12">65</text>
<line x1="355.2" y1="227.8" x2="355.2" y2="229.8" stroke="#484848" stroke-width="0.8"/>
<text x="355.2" y="236.8" font-size="7.4" text-anchor="middle" fill="#222" stroke="#222" stroke-width="0.12">66</text>
<line x1="374.8" y1="227.8" x2="374.8" y2="229.8" stroke="#484848" stroke-width="0.8"/>
<text x="374.8" y="236.8" font-size="7.4" text-anchor="middle" fill="#222" stroke="#222" stroke-width="0.12">67</text>
<line x1="394.4" y1="227.8" x2="394.4" y2="229.8" stroke="#484848" stroke-width="0.8"/>
<text x="394.4" y="236.8" font-size="7.4" text-anchor="middle" fill="#222" stroke="#222" stroke-width="0.12">68</text>
<line x1="414" y1="227.8" x2="414" y2="229.8" stroke="#484848" stroke-width="0.8"/>
<text x="414" y="236.8" font-size="7.4" text-anchor="middle" fill="#222" stroke="#222" stroke-width="0.12">69</text>
<clipPath id="insclip"><rect x="332" y="159.2" width="85.8" height="68.6"/></clipPath>
<g clip-path="url(#insclip)">
<polyline points="342.1,157.2 372.6,186.8 382.2,197.8 411.5,228.8" fill="none" stroke="#2b2b2b" stroke-width="0.95" stroke-linejoin="round"/>
<polyline points="349.5,157.9 382.2,197.8 405.5,228.8" fill="none" stroke="#f23a3a" stroke-width="0.95" stroke-linejoin="round"/>
<polyline points="355.3,157.9 382.2,197.8 402.8,228.8" fill="none" stroke="#2177e3" stroke-width="0.95" stroke-linejoin="round"/>
<polyline points="359.8,157.9 382.2,197.8 400.6,228.8" fill="none" stroke="#19ad72" stroke-width="0.95" stroke-linejoin="round"/>
</g>
<line x1="332" y1="197.8" x2="382.2" y2="197.8" stroke="#ff4a4a" stroke-width="0.9" stroke-dasharray="2.6,1.8"/>
<line x1="382.2" y1="197.8" x2="382.2" y2="227.8" stroke="#ff4a4a" stroke-width="0.9" stroke-dasharray="2.6,1.8"/>
<text x="333.6" y="195.4" font-size="7.5" text-anchor="start" fill="#ff3030" stroke="#ff3030" stroke-width="0.2">0.0575</text>
<rect x="34.5" y="299.8" width="221.9" height="178.6" fill="none" stroke="#484848" stroke-width="1.2"/>
<line x1="34.5" y1="478.4" x2="34.5" y2="481.8" stroke="#484848" stroke-width="1"/>
<line x1="66.18" y1="478.4" x2="66.18" y2="481.8" stroke="#484848" stroke-width="1"/>
<line x1="97.86" y1="478.4" x2="97.86" y2="481.8" stroke="#484848" stroke-width="1"/>
<line x1="129.54" y1="478.4" x2="129.54" y2="481.8" stroke="#484848" stroke-width="1"/>
<line x1="161.22" y1="478.4" x2="161.22" y2="481.8" stroke="#484848" stroke-width="1"/>
<line x1="192.9" y1="478.4" x2="192.9" y2="481.8" stroke="#484848" stroke-width="1"/>
<line x1="224.58" y1="478.4" x2="224.58" y2="481.8" stroke="#484848" stroke-width="1"/>
<line x1="256.26" y1="478.4" x2="256.26" y2="481.8" stroke="#484848" stroke-width="1"/>
<line x1="50.34" y1="478.4" x2="50.34" y2="480.4" stroke="#484848" stroke-width="1"/>
<line x1="82.02" y1="478.4" x2="82.02" y2="480.4" stroke="#484848" stroke-width="1"/>
<line x1="113.7" y1="478.4" x2="113.7" y2="480.4" stroke="#484848" stroke-width="1"/>
<line x1="145.38" y1="478.4" x2="145.38" y2="480.4" stroke="#484848" stroke-width="1"/>
<line x1="177.06" y1="478.4" x2="177.06" y2="480.4" stroke="#484848" stroke-width="1"/>
<line x1="208.74" y1="478.4" x2="208.74" y2="480.4" stroke="#484848" stroke-width="1"/>
<line x1="240.42" y1="478.4" x2="240.42" y2="480.4" stroke="#484848" stroke-width="1"/>
<text x="34.5" y="490.9" font-size="8" text-anchor="middle" fill="#222" stroke="#222" stroke-width="0.2">0.5</text>
<text x="66.18" y="490.9" font-size="8" text-anchor="middle" fill="#222" stroke="#222" stroke-width="0.2">1.0</text>
<text x="97.86" y="490.9" font-size="8" text-anchor="middle" fill="#222" stroke="#222" stroke-width="0.2">1.5</text>
<text x="129.54" y="490.9" font-size="8" text-anchor="middle" fill="#222" stroke="#222" stroke-width="0.2">2.0</text>
<text x="161.22" y="490.9" font-size="8" text-anchor="middle" fill="#222" stroke="#222" stroke-width="0.2">2.5</text>
<text x="192.9" y="490.9" font-size="8" text-anchor="middle" fill="#222" stroke="#222" stroke-width="0.2">3.0</text>
<text x="224.58" y="490.9" font-size="8" text-anchor="middle" fill="#222" stroke="#222" stroke-width="0.2">3.5</text>
<text x="256.26" y="490.9" font-size="8" text-anchor="middle" fill="#222" stroke="#222" stroke-width="0.2">4.0</text>
<line x1="31.1" y1="463.6" x2="34.5" y2="463.6" stroke="#484848" stroke-width="1"/>
<line x1="31.1" y1="433.74" x2="34.5" y2="433.74" stroke="#484848" stroke-width="1"/>
<line x1="31.1" y1="403.88" x2="34.5" y2="403.88" stroke="#484848" stroke-width="1"/>
<line x1="31.1" y1="374.02" x2="34.5" y2="374.02" stroke="#484848" stroke-width="1"/>
<line x1="31.1" y1="344.16" x2="34.5" y2="344.16" stroke="#484848" stroke-width="1"/>
<line x1="31.1" y1="314.3" x2="34.5" y2="314.3" stroke="#484848" stroke-width="1"/>
<line x1="32.5" y1="448.67" x2="34.5" y2="448.67" stroke="#484848" stroke-width="1"/>
<line x1="32.5" y1="418.81" x2="34.5" y2="418.81" stroke="#484848" stroke-width="1"/>
<line x1="32.5" y1="388.95" x2="34.5" y2="388.95" stroke="#484848" stroke-width="1"/>
<line x1="32.5" y1="359.09" x2="34.5" y2="359.09" stroke="#484848" stroke-width="1"/>
<line x1="32.5" y1="329.23" x2="34.5" y2="329.23" stroke="#484848" stroke-width="1"/>
<text x="28.4" y="466.5" font-size="8" text-anchor="end" fill="#222" stroke="#222" stroke-width="0.2">0.00</text>
<text x="28.4" y="436.64" font-size="8" text-anchor="end" fill="#222" stroke="#222" stroke-width="0.2">0.02</text>
<text x="28.4" y="406.78" font-size="8" text-anchor="end" fill="#222" stroke="#222" stroke-width="0.2">0.04</text>
<text x="28.4" y="376.92" font-size="8" text-anchor="end" fill="#222" stroke="#222" stroke-width="0.2">0.06</text>
<text x="28.4" y="347.06" font-size="8" text-anchor="end" fill="#222" stroke="#222" stroke-width="0.2">0.08</text>
<text x="28.4" y="317.2" font-size="8" text-anchor="end" fill="#222" stroke="#222" stroke-width="0.2">0.10</text>
<text x="9.9" y="389" font-size="8.3" text-anchor="middle" fill="#222" stroke="#222" stroke-width="0.35" transform="rotate(-90 9.9 389)">Height (m)</text>
<text x="145.3" y="505.2" font-size="8.4" text-anchor="middle" fill="#222" stroke="#222" stroke-width="0.2">Particle normal velocity (m/s)</text>
<path d="M62.9,314.4 C65.27,314.73 72.48,315.17 77.1,316.4 C81.72,317.63 87.4,320.28 90.6,321.8 C93.8,323.32 94.18,324.22 96.3,325.5 C98.42,326.78 101.62,326.92 103.3,329.5 C104.98,332.08 105.68,337.92 106.4,341 C107.12,344.08 107.28,345.67 107.6,348 C107.92,350.33 108.07,351.73 108.3,355 C108.53,358.27 108.88,361.68 109,367.6 C109.12,373.52 109,386.18 109,390.5 C109,394.82 109.3,389.68 109,393.5 C108.7,397.32 107.72,408.85 107.2,413.4 C106.68,417.95 106.82,416.92 105.9,420.8 C104.98,424.68 103.52,432.05 101.7,436.7 C99.88,441.35 98.02,445.42 95,448.7 C91.98,451.98 86.52,454.68 83.6,456.4 C80.68,458.12 82.03,457.83 77.5,459 C72.97,460.17 59.92,462.67 56.4,463.4" fill="none" stroke="#2b2b2b" stroke-width="0.9"/>
<rect x="61.65" y="313.15" width="2.5" height="2.5" fill="#2b2b2b"/>
<rect x="75.85" y="315.15" width="2.5" height="2.5" fill="#2b2b2b"/>
<rect x="89.35" y="320.55" width="2.5" height="2.5" fill="#2b2b2b"/>
<rect x="95.05" y="324.25" width="2.5" height="2.5" fill="#2b2b2b"/>
<rect x="102.05" y="328.25" width="2.5" height="2.5" fill="#2b2b2b"/>
<rect x="106.35" y="346.75" width="2.5" height="2.5" fill="#2b2b2b"/>
<rect x="107.05" y="353.75" width="2.5" height="2.5" fill="#2b2b2b"/>
<rect x="107.75" y="366.35" width="2.5" height="2.5" fill="#2b2b2b"/>
<rect x="107.75" y="389.25" width="2.5" height="2.5" fill="#2b2b2b"/>
<rect x="107.75" y="392.25" width="2.5" height="2.5" fill="#2b2b2b"/>
<rect x="105.95" y="412.15" width="2.5" height="2.5" fill="#2b2b2b"/>
<rect x="104.65" y="419.55" width="2.5" height="2.5" fill="#2b2b2b"/>
<rect x="100.45" y="435.45" width="2.5" height="2.5" fill="#2b2b2b"/>
<rect x="93.75" y="447.45" width="2.5" height="2.5" fill="#2b2b2b"/>
<rect x="82.35" y="455.15" width="2.5" height="2.5" fill="#2b2b2b"/>
<rect x="76.25" y="457.75" width="2.5" height="2.5" fill="#2b2b2b"/>
<rect x="55.15" y="462.15" width="2.5" height="2.5" fill="#2b2b2b"/>
<path d="M83.2,314.4 C86.25,314.73 95.43,315.17 101.5,316.4 C107.57,317.63 115.38,320.28 119.6,321.8 C123.82,323.32 124.25,324.22 126.8,325.5 C129.35,326.78 132.7,326.92 134.9,329.5 C137.1,332.08 138.9,337.92 140,341 C141.1,344.08 141.07,345.67 141.5,348 C141.93,350.33 142.28,351.73 142.6,355 C142.92,358.27 143.27,361.68 143.4,367.6 C143.53,373.52 143.4,386.18 143.4,390.5 C143.4,394.82 143.72,389.68 143.4,393.5 C143.08,397.32 142.07,408.85 141.5,413.4 C140.93,417.95 140.98,416.92 140,420.8 C139.02,424.68 137.65,432.05 135.6,436.7 C133.55,441.35 131.63,445.42 127.7,448.7 C123.77,451.98 116,454.68 112,456.4 C108,458.12 109.95,457.83 103.7,459 C97.45,460.17 79.37,462.67 74.5,463.4" fill="none" stroke="#f23a3a" stroke-width="0.9"/>
<circle cx="83.2" cy="314.4" r="1.38" fill="#f23a3a"/>
<circle cx="101.5" cy="316.4" r="1.38" fill="#f23a3a"/>
<circle cx="119.6" cy="321.8" r="1.38" fill="#f23a3a"/>
<circle cx="126.8" cy="325.5" r="1.38" fill="#f23a3a"/>
<circle cx="134.9" cy="329.5" r="1.38" fill="#f23a3a"/>
<circle cx="141.5" cy="348" r="1.38" fill="#f23a3a"/>
<circle cx="142.6" cy="355" r="1.38" fill="#f23a3a"/>
<circle cx="143.4" cy="367.6" r="1.38" fill="#f23a3a"/>
<circle cx="143.4" cy="390.5" r="1.38" fill="#f23a3a"/>
<circle cx="143.4" cy="393.5" r="1.38" fill="#f23a3a"/>
<circle cx="141.5" cy="413.4" r="1.38" fill="#f23a3a"/>
<circle cx="140" cy="420.8" r="1.38" fill="#f23a3a"/>
<circle cx="135.6" cy="436.7" r="1.38" fill="#f23a3a"/>
<circle cx="127.7" cy="448.7" r="1.38" fill="#f23a3a"/>
<circle cx="112" cy="456.4" r="1.38" fill="#f23a3a"/>
<circle cx="103.7" cy="459" r="1.38" fill="#f23a3a"/>
<circle cx="74.5" cy="463.4" r="1.38" fill="#f23a3a"/>
<path d="M103.7,314.4 C107.45,314.73 118.75,315.17 126.2,316.4 C133.65,317.63 143.18,320.28 148.4,321.8 C153.62,323.32 154.3,324.22 157.5,325.5 C160.7,326.78 164.98,326.92 167.6,329.5 C170.22,332.08 171.97,337.92 173.2,341 C174.43,344.08 174.42,345.67 175,348 C175.58,350.33 176.23,351.73 176.7,355 C177.17,358.27 177.62,361.68 177.8,367.6 C177.98,373.52 177.8,386.18 177.8,390.5 C177.8,394.82 178.2,389.68 177.8,393.5 C177.4,397.32 176.07,408.85 175.4,413.4 C174.73,417.95 174.87,416.92 173.8,420.8 C172.73,424.68 171.22,432.05 169,436.7 C166.78,441.35 165.08,445.42 160.5,448.7 C155.92,451.98 146.38,454.68 141.5,456.4 C136.62,458.12 138.95,457.83 131.2,459 C123.45,460.17 101.03,462.67 95,463.4" fill="none" stroke="#2177e3" stroke-width="0.9"/>
<path d="M103.7,312.77 L102.08,315.65 L105.33,315.65 Z" fill="#2177e3"/>
<path d="M126.2,314.77 L124.58,317.65 L127.83,317.65 Z" fill="#2177e3"/>
<path d="M148.4,320.18 L146.78,323.05 L150.03,323.05 Z" fill="#2177e3"/>
<path d="M157.5,323.88 L155.88,326.75 L159.12,326.75 Z" fill="#2177e3"/>
<path d="M167.6,327.88 L165.97,330.75 L169.22,330.75 Z" fill="#2177e3"/>
<path d="M175,346.38 L173.38,349.25 L176.62,349.25 Z" fill="#2177e3"/>
<path d="M176.7,353.38 L175.07,356.25 L178.32,356.25 Z" fill="#2177e3"/>
<path d="M177.8,365.98 L176.18,368.85 L179.43,368.85 Z" fill="#2177e3"/>
<path d="M177.8,388.88 L176.18,391.75 L179.43,391.75 Z" fill="#2177e3"/>
<path d="M177.8,391.88 L176.18,394.75 L179.43,394.75 Z" fill="#2177e3"/>
<path d="M175.4,411.77 L173.78,414.65 L177.03,414.65 Z" fill="#2177e3"/>
<path d="M173.8,419.18 L172.18,422.05 L175.43,422.05 Z" fill="#2177e3"/>
<path d="M169,435.07 L167.38,437.95 L170.62,437.95 Z" fill="#2177e3"/>
<path d="M160.5,447.07 L158.88,449.95 L162.12,449.95 Z" fill="#2177e3"/>
<path d="M141.5,454.77 L139.88,457.65 L143.12,457.65 Z" fill="#2177e3"/>
<path d="M131.2,457.38 L129.57,460.25 L132.82,460.25 Z" fill="#2177e3"/>
<path d="M95,461.77 L93.38,464.65 L96.62,464.65 Z" fill="#2177e3"/>
<path d="M123.9,314.4 C128.42,314.73 142.02,315.17 151,316.4 C159.98,317.63 171.62,320.28 177.8,321.8 C183.98,323.32 184.35,324.22 188.1,325.5 C191.85,326.78 197.18,326.92 200.3,329.5 C203.42,332.08 205.35,337.92 206.8,341 C208.25,344.08 208.37,345.67 209,348 C209.63,350.33 210.17,351.73 210.6,355 C211.03,358.27 211.35,361.68 211.6,367.6 C211.85,373.52 212.02,386.18 212.1,390.5 C212.18,394.82 212.53,389.68 212.1,393.5 C211.67,397.32 210.23,408.85 209.5,413.4 C208.77,417.95 208.95,416.92 207.7,420.8 C206.45,424.68 204.53,432.05 202,436.7 C199.47,441.35 198,445.42 192.5,448.7 C187,451.98 174.83,454.68 169,456.4 C163.17,458.12 166.45,457.83 157.5,459 C148.55,460.17 122.33,462.67 115.3,463.4" fill="none" stroke="#19ad72" stroke-width="0.9"/>
<path d="M123.9,316.02 L122.28,313.15 L125.53,313.15 Z" fill="#19ad72"/>
<path d="M151,318.02 L149.38,315.15 L152.62,315.15 Z" fill="#19ad72"/>
<path d="M177.8,323.43 L176.18,320.55 L179.43,320.55 Z" fill="#19ad72"/>
<path d="M188.1,327.12 L186.47,324.25 L189.72,324.25 Z" fill="#19ad72"/>
<path d="M200.3,331.12 L198.68,328.25 L201.93,328.25 Z" fill="#19ad72"/>
<path d="M209,349.62 L207.38,346.75 L210.62,346.75 Z" fill="#19ad72"/>
<path d="M210.6,356.62 L208.97,353.75 L212.22,353.75 Z" fill="#19ad72"/>
<path d="M211.6,369.23 L209.97,366.35 L213.22,366.35 Z" fill="#19ad72"/>
<path d="M212.1,392.12 L210.47,389.25 L213.72,389.25 Z" fill="#19ad72"/>
<path d="M212.1,395.12 L210.47,392.25 L213.72,392.25 Z" fill="#19ad72"/>
<path d="M209.5,415.02 L207.88,412.15 L211.12,412.15 Z" fill="#19ad72"/>
<path d="M207.7,422.43 L206.07,419.55 L209.32,419.55 Z" fill="#19ad72"/>
<path d="M202,438.32 L200.38,435.45 L203.62,435.45 Z" fill="#19ad72"/>
<path d="M192.5,450.32 L190.88,447.45 L194.12,447.45 Z" fill="#19ad72"/>
<path d="M169,458.02 L167.38,455.15 L170.62,455.15 Z" fill="#19ad72"/>
<path d="M157.5,460.62 L155.88,457.75 L159.12,457.75 Z" fill="#19ad72"/>
<path d="M115.3,465.02 L113.67,462.15 L116.92,462.15 Z" fill="#19ad72"/>
<line x1="217.2" y1="305.4" x2="228.9" y2="305.4" stroke="#2b2b2b" stroke-width="1"/>
<rect x="221.85" y="304.2" width="2.4" height="2.4" fill="#2b2b2b"/>
<text x="231.4" y="308.3" font-size="8.3" text-anchor="start" fill="#222" stroke="#222" stroke-width="0.2">1.5m/s</text>
<line x1="217.2" y1="315.5" x2="228.9" y2="315.5" stroke="#f23a3a" stroke-width="1"/>
<circle cx="223.05" cy="315.5" r="1.32" fill="#f23a3a"/>
<text x="231.4" y="318.4" font-size="8.3" text-anchor="start" fill="#222" stroke="#222" stroke-width="0.2">2.0m/s</text>
<line x1="217.2" y1="326" x2="228.9" y2="326" stroke="#2177e3" stroke-width="1"/>
<path d="M223.05,324.44 L221.49,327.2 L224.61,327.2 Z" fill="#2177e3"/>
<text x="231.4" y="328.9" font-size="8.3" text-anchor="start" fill="#222" stroke="#222" stroke-width="0.2">2.5m/s</text>
<line x1="217.2" y1="336.2" x2="228.9" y2="336.2" stroke="#19ad72" stroke-width="1"/>
<path d="M223.05,337.76 L221.49,335 L224.61,335 Z" fill="#19ad72"/>
<text x="231.4" y="339.1" font-size="8.3" text-anchor="start" fill="#222" stroke="#222" stroke-width="0.2">3.0m/s</text>
<rect x="316" y="300" width="220.2" height="177.6" fill="none" stroke="#484848" stroke-width="1.2"/>
<line x1="316" y1="477.6" x2="316" y2="481" stroke="#484848" stroke-width="1"/>
<line x1="340.47" y1="477.6" x2="340.47" y2="481" stroke="#484848" stroke-width="1"/>
<line x1="364.93" y1="477.6" x2="364.93" y2="481" stroke="#484848" stroke-width="1"/>
<line x1="389.4" y1="477.6" x2="389.4" y2="481" stroke="#484848" stroke-width="1"/>
<line x1="413.86" y1="477.6" x2="413.86" y2="481" stroke="#484848" stroke-width="1"/>
<line x1="438.33" y1="477.6" x2="438.33" y2="481" stroke="#484848" stroke-width="1"/>
<line x1="462.8" y1="477.6" x2="462.8" y2="481" stroke="#484848" stroke-width="1"/>
<line x1="487.26" y1="477.6" x2="487.26" y2="481" stroke="#484848" stroke-width="1"/>
<line x1="511.73" y1="477.6" x2="511.73" y2="481" stroke="#484848" stroke-width="1"/>
<line x1="536.19" y1="477.6" x2="536.19" y2="481" stroke="#484848" stroke-width="1"/>
<line x1="328.23" y1="477.6" x2="328.23" y2="479.6" stroke="#484848" stroke-width="1"/>
<line x1="352.7" y1="477.6" x2="352.7" y2="479.6" stroke="#484848" stroke-width="1"/>
<line x1="377.17" y1="477.6" x2="377.17" y2="479.6" stroke="#484848" stroke-width="1"/>
<line x1="401.63" y1="477.6" x2="401.63" y2="479.6" stroke="#484848" stroke-width="1"/>
<line x1="426.1" y1="477.6" x2="426.1" y2="479.6" stroke="#484848" stroke-width="1"/>
<line x1="450.56" y1="477.6" x2="450.56" y2="479.6" stroke="#484848" stroke-width="1"/>
<line x1="475.03" y1="477.6" x2="475.03" y2="479.6" stroke="#484848" stroke-width="1"/>
<line x1="499.5" y1="477.6" x2="499.5" y2="479.6" stroke="#484848" stroke-width="1"/>
<line x1="523.96" y1="477.6" x2="523.96" y2="479.6" stroke="#484848" stroke-width="1"/>
<text x="316" y="489.4" font-size="7.9" text-anchor="middle" fill="#222" stroke="#222" stroke-width="0.2">-0.006</text>
<text x="340.47" y="489.4" font-size="7.9" text-anchor="middle" fill="#222" stroke="#222" stroke-width="0.2">-0.005</text>
<text x="364.93" y="489.4" font-size="7.9" text-anchor="middle" fill="#222" stroke="#222" stroke-width="0.2">-0.004</text>
<text x="389.4" y="489.4" font-size="7.9" text-anchor="middle" fill="#222" stroke="#222" stroke-width="0.2">-0.003</text>
<text x="413.86" y="489.4" font-size="7.9" text-anchor="middle" fill="#222" stroke="#222" stroke-width="0.2">-0.002</text>
<text x="438.33" y="489.4" font-size="7.9" text-anchor="middle" fill="#222" stroke="#222" stroke-width="0.2">-0.001</text>
<text x="462.8" y="489.4" font-size="7.9" text-anchor="middle" fill="#222" stroke="#222" stroke-width="0.2">0.000</text>
<text x="487.26" y="489.4" font-size="7.9" text-anchor="middle" fill="#222" stroke="#222" stroke-width="0.2">0.001</text>
<text x="511.73" y="489.4" font-size="7.9" text-anchor="middle" fill="#222" stroke="#222" stroke-width="0.2">0.002</text>
<text x="536.19" y="489.4" font-size="7.9" text-anchor="middle" fill="#222" stroke="#222" stroke-width="0.2">0.003</text>
<line x1="312.6" y1="462.8" x2="316" y2="462.8" stroke="#484848" stroke-width="1"/>
<line x1="312.6" y1="433.06" x2="316" y2="433.06" stroke="#484848" stroke-width="1"/>
<line x1="312.6" y1="403.32" x2="316" y2="403.32" stroke="#484848" stroke-width="1"/>
<line x1="312.6" y1="373.58" x2="316" y2="373.58" stroke="#484848" stroke-width="1"/>
<line x1="312.6" y1="343.84" x2="316" y2="343.84" stroke="#484848" stroke-width="1"/>
<line x1="312.6" y1="314.1" x2="316" y2="314.1" stroke="#484848" stroke-width="1"/>
<line x1="314" y1="447.93" x2="316" y2="447.93" stroke="#484848" stroke-width="1"/>
<line x1="314" y1="418.19" x2="316" y2="418.19" stroke="#484848" stroke-width="1"/>
<line x1="314" y1="388.45" x2="316" y2="388.45" stroke="#484848" stroke-width="1"/>
<line x1="314" y1="358.71" x2="316" y2="358.71" stroke="#484848" stroke-width="1"/>
<line x1="314" y1="328.97" x2="316" y2="328.97" stroke="#484848" stroke-width="1"/>
<text x="310" y="465.7" font-size="8" text-anchor="end" fill="#222" stroke="#222" stroke-width="0.2">0.00</text>
<text x="310" y="435.96" font-size="8" text-anchor="end" fill="#222" stroke="#222" stroke-width="0.2">0.02</text>
<text x="310" y="406.22" font-size="8" text-anchor="end" fill="#222" stroke="#222" stroke-width="0.2">0.04</text>
<text x="310" y="376.48" font-size="8" text-anchor="end" fill="#222" stroke="#222" stroke-width="0.2">0.06</text>
<text x="310" y="346.74" font-size="8" text-anchor="end" fill="#222" stroke="#222" stroke-width="0.2">0.08</text>
<text x="310" y="317" font-size="8" text-anchor="end" fill="#222" stroke="#222" stroke-width="0.2">0.10</text>
<text x="291.6" y="388.3" font-size="8.3" text-anchor="middle" fill="#222" stroke="#222" stroke-width="0.35" transform="rotate(-90 291.6 388.3)">Height (m)</text>
<text x="425.9" y="503.4" font-size="8.4" text-anchor="middle" fill="#222" stroke="#222" stroke-width="0.2">Tangential velocity (m/s)</text>
<line x1="316" y1="367.9" x2="413.6" y2="367.9" stroke="#ff4040" stroke-width="1" stroke-dasharray="3.2,2.6"/>
<text x="321.3" y="363.6" font-size="8.3" text-anchor="start" fill="#ff3030" stroke="#ff3030" stroke-width="0.2">0.063</text>
<polyline points="378.6,314.6 378.1,316.8 369.9,321.9 370.5,325.5 391.9,329.8 383.1,340.6 389.9,348 391.9,354.8 414.2,367.8 428.8,390.5 431.4,393.8 429.2,412.9 435.9,420.4 458.8,436.3 451.4,448.1 432.4,455.5 422.3,458.2 396.9,462.8" fill="none" stroke="#2b2b2b" stroke-width="0.9" stroke-linejoin="round"/>
<rect x="377.35" y="313.35" width="2.5" height="2.5" fill="#2b2b2b"/>
<rect x="376.85" y="315.55" width="2.5" height="2.5" fill="#2b2b2b"/>
<rect x="368.65" y="320.65" width="2.5" height="2.5" fill="#2b2b2b"/>
<rect x="369.25" y="324.25" width="2.5" height="2.5" fill="#2b2b2b"/>
<rect x="390.65" y="328.55" width="2.5" height="2.5" fill="#2b2b2b"/>
<rect x="388.65" y="346.75" width="2.5" height="2.5" fill="#2b2b2b"/>
<rect x="390.65" y="353.55" width="2.5" height="2.5" fill="#2b2b2b"/>
<rect x="427.55" y="389.25" width="2.5" height="2.5" fill="#2b2b2b"/>
<rect x="430.15" y="392.55" width="2.5" height="2.5" fill="#2b2b2b"/>
<rect x="427.95" y="411.65" width="2.5" height="2.5" fill="#2b2b2b"/>
<rect x="434.65" y="419.15" width="2.5" height="2.5" fill="#2b2b2b"/>
<rect x="457.55" y="435.05" width="2.5" height="2.5" fill="#2b2b2b"/>
<rect x="450.15" y="446.85" width="2.5" height="2.5" fill="#2b2b2b"/>
<rect x="431.15" y="454.25" width="2.5" height="2.5" fill="#2b2b2b"/>
<rect x="421.05" y="456.95" width="2.5" height="2.5" fill="#2b2b2b"/>
<rect x="395.65" y="461.55" width="2.5" height="2.5" fill="#2b2b2b"/>
<polyline points="431,314.6 422,316.8 405.5,321.9 402.6,325.5 423.9,329.8 400.3,340.6 400.3,348 396,354.8 414.2,367.8 421.7,390.5 423.2,393.8 418.7,412.9 426.2,420.4 452.8,436.3 443.3,448.1 419.5,455.5 406.7,458.2 372.4,462.8" fill="none" stroke="#f23a3a" stroke-width="0.9" stroke-linejoin="round"/>
<circle cx="431" cy="314.6" r="1.38" fill="#f23a3a"/>
<circle cx="422" cy="316.8" r="1.38" fill="#f23a3a"/>
<circle cx="405.5" cy="321.9" r="1.38" fill="#f23a3a"/>
<circle cx="402.6" cy="325.5" r="1.38" fill="#f23a3a"/>
<circle cx="423.9" cy="329.8" r="1.38" fill="#f23a3a"/>
<circle cx="400.3" cy="348" r="1.38" fill="#f23a3a"/>
<circle cx="396" cy="354.8" r="1.38" fill="#f23a3a"/>
<circle cx="421.7" cy="390.5" r="1.38" fill="#f23a3a"/>
<circle cx="423.2" cy="393.8" r="1.38" fill="#f23a3a"/>
<circle cx="418.7" cy="412.9" r="1.38" fill="#f23a3a"/>
<circle cx="426.2" cy="420.4" r="1.38" fill="#f23a3a"/>
<circle cx="452.8" cy="436.3" r="1.38" fill="#f23a3a"/>
<circle cx="443.3" cy="448.1" r="1.38" fill="#f23a3a"/>
<circle cx="419.5" cy="455.5" r="1.38" fill="#f23a3a"/>
<circle cx="406.7" cy="458.2" r="1.38" fill="#f23a3a"/>
<circle cx="372.4" cy="462.8" r="1.38" fill="#f23a3a"/>
<polyline points="466.5,314.6 451.6,316.8 428,321.9 422.5,325.5 445.2,329.8 409,340.6 406.6,348 397.2,354.8 414.2,367.8 417.5,390.5 419.3,393.8 412.7,412.9 420.2,420.4 449.4,436.3 438.6,448.1 409.4,455.5 394.2,458.2 352.2,462.8" fill="none" stroke="#2177e3" stroke-width="0.9" stroke-linejoin="round"/>
<path d="M466.5,312.98 L464.88,315.85 L468.12,315.85 Z" fill="#2177e3"/>
<path d="M451.6,315.18 L449.98,318.05 L453.23,318.05 Z" fill="#2177e3"/>
<path d="M428,320.27 L426.38,323.15 L429.62,323.15 Z" fill="#2177e3"/>
<path d="M422.5,323.88 L420.88,326.75 L424.12,326.75 Z" fill="#2177e3"/>
<path d="M445.2,328.18 L443.57,331.05 L446.82,331.05 Z" fill="#2177e3"/>
<path d="M406.6,346.38 L404.98,349.25 L408.23,349.25 Z" fill="#2177e3"/>
<path d="M397.2,353.18 L395.57,356.05 L398.82,356.05 Z" fill="#2177e3"/>
<path d="M417.5,388.88 L415.88,391.75 L419.12,391.75 Z" fill="#2177e3"/>
<path d="M419.3,392.18 L417.68,395.05 L420.93,395.05 Z" fill="#2177e3"/>
<path d="M412.7,411.27 L411.07,414.15 L414.32,414.15 Z" fill="#2177e3"/>
<path d="M420.2,418.77 L418.57,421.65 L421.82,421.65 Z" fill="#2177e3"/>
<path d="M449.4,434.68 L447.77,437.55 L451.02,437.55 Z" fill="#2177e3"/>
<path d="M438.6,446.48 L436.98,449.35 L440.23,449.35 Z" fill="#2177e3"/>
<path d="M409.4,453.88 L407.77,456.75 L411.02,456.75 Z" fill="#2177e3"/>
<path d="M394.2,456.57 L392.57,459.45 L395.82,459.45 Z" fill="#2177e3"/>
<path d="M352.2,461.18 L350.57,464.05 L353.82,464.05 Z" fill="#2177e3"/>
<polyline points="494.8,314.6 474.5,316.8 445.2,321.9 437.4,325.5 461.7,329.8 417.3,340.6 410.7,348 397.9,354.8 414.2,367.8 415.3,390.5 416.8,393.8 408.3,412.9 416.3,420.4 448.3,436.3 434,448.1 401.3,455.5 382.7,458.2 333.1,462.8" fill="none" stroke="#19ad72" stroke-width="0.9" stroke-linejoin="round"/>
<path d="M494.8,316.23 L493.18,313.35 L496.43,313.35 Z" fill="#19ad72"/>
<path d="M474.5,318.43 L472.88,315.55 L476.12,315.55 Z" fill="#19ad72"/>
<path d="M445.2,323.52 L443.57,320.65 L446.82,320.65 Z" fill="#19ad72"/>
<path d="M437.4,327.12 L435.77,324.25 L439.02,324.25 Z" fill="#19ad72"/>
<path d="M461.7,331.43 L460.07,328.55 L463.32,328.55 Z" fill="#19ad72"/>
<path d="M410.7,349.62 L409.07,346.75 L412.32,346.75 Z" fill="#19ad72"/>
<path d="M397.9,356.43 L396.27,353.55 L399.52,353.55 Z" fill="#19ad72"/>
<path d="M415.3,392.12 L413.68,389.25 L416.93,389.25 Z" fill="#19ad72"/>
<path d="M416.8,395.43 L415.18,392.55 L418.43,392.55 Z" fill="#19ad72"/>
<path d="M408.3,414.52 L406.68,411.65 L409.93,411.65 Z" fill="#19ad72"/>
<path d="M416.3,422.02 L414.68,419.15 L417.93,419.15 Z" fill="#19ad72"/>
<path d="M448.3,437.93 L446.68,435.05 L449.93,435.05 Z" fill="#19ad72"/>
<path d="M434,449.73 L432.38,446.85 L435.62,446.85 Z" fill="#19ad72"/>
<path d="M401.3,457.12 L399.68,454.25 L402.93,454.25 Z" fill="#19ad72"/>
<path d="M382.7,459.82 L381.07,456.95 L384.32,456.95 Z" fill="#19ad72"/>
<path d="M333.1,464.43 L331.48,461.55 L334.73,461.55 Z" fill="#19ad72"/>
<line x1="498.5" y1="305.9" x2="509.7" y2="305.9" stroke="#2b2b2b" stroke-width="1"/>
<rect x="502.9" y="304.7" width="2.4" height="2.4" fill="#2b2b2b"/>
<text x="512.2" y="308.8" font-size="8.3" text-anchor="start" fill="#222" stroke="#222" stroke-width="0.2">1.5m/s</text>
<line x1="498.5" y1="316.3" x2="509.7" y2="316.3" stroke="#f23a3a" stroke-width="1"/>
<circle cx="504.1" cy="316.3" r="1.32" fill="#f23a3a"/>
<text x="512.2" y="319.2" font-size="8.3" text-anchor="start" fill="#222" stroke="#222" stroke-width="0.2">2.0m/s</text>
<line x1="498.5" y1="326.6" x2="509.7" y2="326.6" stroke="#2177e3" stroke-width="1"/>
<path d="M504.1,325.04 L502.54,327.8 L505.66,327.8 Z" fill="#2177e3"/>
<text x="512.2" y="329.5" font-size="8.3" text-anchor="start" fill="#222" stroke="#222" stroke-width="0.2">2.5m/s</text>
<line x1="498.5" y1="336.8" x2="509.7" y2="336.8" stroke="#19ad72" stroke-width="1"/>
<path d="M504.1,338.36 L502.54,335.6 L505.66,335.6 Z" fill="#19ad72"/>
<text x="512.2" y="339.7" font-size="8.3" text-anchor="start" fill="#222" stroke="#222" stroke-width="0.2">3.0m/s</text>
</svg></body></html>
